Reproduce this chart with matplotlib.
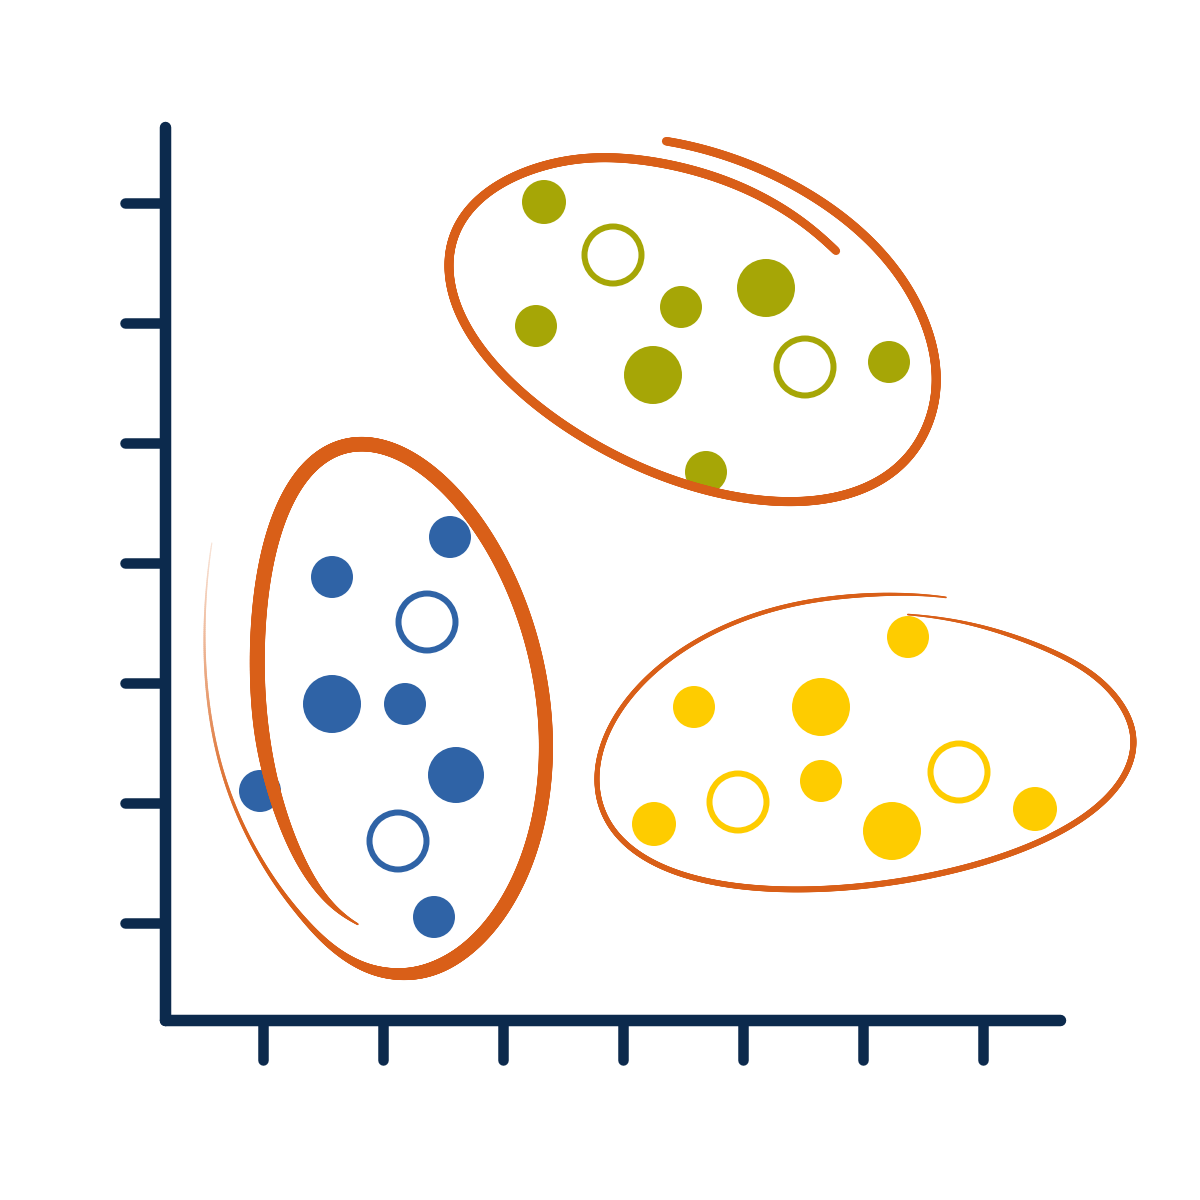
import numpy as np
import matplotlib
matplotlib.use("Agg")
import matplotlib.pyplot as plt
from matplotlib.patches import Circle
from matplotlib.collections import LineCollection
from matplotlib.colors import to_rgb

# ---------------- data (pixel-space coordinates of the icon) ----------------
blue_x = [450, 332, 332, 405, 456, 260, 434]
blue_y = [537, 577, 704, 704, 775, 791, 917]
blue_r = [21, 21, 29, 21, 28, 21, 21]
blue_open_x = [427, 398]
blue_open_y = [622, 841]

green_x = [544, 536, 681, 766, 653, 889, 706]
green_y = [202, 326, 307, 288, 375, 362, 472]
green_r = [22, 21, 21, 29, 29, 21, 21]
green_open_x = [613, 805]
green_open_y = [255, 367]

yellow_x = [908, 694, 821, 821, 654, 892, 1035]
yellow_y = [637, 707, 707, 781, 824, 831, 809]
yellow_r = [21, 21, 29, 21, 22, 29, 22]
yellow_open_x = [738, 959]
yellow_open_y = [802, 772]

xtick_pos = [263, 383, 503, 623, 743, 863, 983]
ytick_pos = [203, 323, 443, 563, 683, 803, 923]

NAVY = "#0c2a4d"
BLUE = "#2f63a6"
GREEN = "#a6a606"
YELLOW = "#fecc00"
ORANGE = "#d95f18"

PX = 0.72  # points per pixel at dpi=100

fig = plt.figure(figsize=(12, 12), dpi=100)
ax = fig.add_axes([0, 0, 1, 1])
ax.set_xlim(0, 1200)
ax.set_ylim(1200, 0)
ax.set_aspect("equal")
ax.axis("off")

# ---------------- axes of the icon ----------------
ax.plot([165, 165], [127, 1020], color=NAVY, lw=11.5 * PX, solid_capstyle="round")
ax.plot([165, 1060], [1020, 1020], color=NAVY, lw=11.5 * PX, solid_capstyle="round")
for yt in ytick_pos:
    ax.plot([125, 165], [yt, yt], color=NAVY, lw=10.5 * PX, solid_capstyle="round")
for xt in xtick_pos:
    ax.plot([xt, xt], [1020, 1060], color=NAVY, lw=10.5 * PX, solid_capstyle="round")

# ---------------- dots ----------------
def dots(xs, ys, rs, color):
    for x, y, r in zip(xs, ys, rs):
        ax.add_patch(Circle((x, y), r, facecolor=color, edgecolor="none", zorder=3))

def rings(xs, ys, color):
    for x, y in zip(xs, ys):
        ax.add_patch(Circle((x, y), 28.5, facecolor="white", edgecolor=color,
                            lw=6 * PX, zorder=3))

dots(blue_x, blue_y, blue_r, BLUE)
rings(blue_open_x, blue_open_y, BLUE)
dots(green_x, green_y, green_r, GREEN)
rings(green_open_x, green_open_y, GREEN)
dots(yellow_x, yellow_y, yellow_r, YELLOW)
rings(yellow_open_x, yellow_open_y, YELLOW)

# ---------------- hand-drawn loops ----------------
def smooth(arr, sigma):
    k = np.arange(-3 * sigma, 3 * sigma + 1)
    g = np.exp(-0.5 * (k / sigma) ** 2)
    g /= g.sum()
    pad = len(k) // 2
    p = np.concatenate([np.full(pad, arr[0]), arr, np.full(pad, arr[-1])])
    return np.convolve(p, g, mode="valid")

def spiral(cx, cy, a, b, phi_deg, gam, dlt, t_keys, s_keys, w_keys, f_keys,
           n=1500, sigma=25):
    t_keys = np.asarray(t_keys, float)
    s_keys, w_keys, f_keys = (np.asarray(k, float) for k in (s_keys, w_keys, f_keys))
    t = np.linspace(t_keys[0], t_keys[-1], n)
    if t_keys[-1] < t_keys[0]:
        tk, sk, wk, fk = t_keys[::-1], s_keys[::-1], w_keys[::-1], f_keys[::-1]
    else:
        tk, sk, wk, fk = t_keys, s_keys, w_keys, f_keys
    s = smooth(np.interp(t, tk, sk), sigma)
    w = smooth(np.interp(t, tk, wk), sigma // 2)
    f = smooth(np.interp(t, tk, fk), sigma // 2)
    tr = np.radians(t)
    ph = np.radians(phi_deg)
    u = a * np.cos(tr) * s + gam * np.sin(tr) ** 2
    v = b * np.sin(tr) * s + dlt * np.cos(tr) ** 2
    x = cx + u * np.cos(ph) - v * np.sin(ph)
    y = cy + u * np.sin(ph) + v * np.cos(ph)
    pts = np.column_stack([x, y])
    segs = np.stack([pts[:-1], pts[1:]], axis=1)
    wm = 0.5 * (w[:-1] + w[1:]) * PX
    fm = 0.5 * (f[:-1] + f[1:])
    base = np.array(to_rgb(ORANGE))
    cols = base[None, :] * fm[:, None] + (1 - fm[:, None]) * np.ones(3)[None, :]
    lc = LineCollection(segs, linewidths=wm, colors=cols, capstyle="round",
                        joinstyle="round", zorder=4)
    ax.add_collection(lc)

# blue cluster loop (starts faint outside on the left, ends inside lower-left)
spiral(401, 707, 142, 266, -6.3, -18, 13,
       [212, 190, 175, 159, 140, 120, 100, 80, 0, -180, -212, -245],
       [1.37, 1.37, 1.32, 1.19, 1.07, 1.02, 1.0, 1.0, 1.0, 1.0, 0.93, 0.86],
       [1.0, 2.5, 3.0, 3.5, 4.5, 7, 11, 14, 14, 15, 10, 1.5],
       [0.15, 0.55, 0.85, 1, 1, 1, 1, 1, 1, 1, 1, 1])

# green cluster loop
spiral(692, 321, 257, 155, 22.5, 15, 10,
       [-112, -80, -40, 0, 90, 165, 230, 262, 295],
       [1.10, 1.06, 1.02, 1.0, 1.0, 0.98, 0.99, 0.93, 0.86],
       [8.5, 9, 9, 9, 9, 9, 9, 9, 8],
       [1, 1, 1, 1, 1, 1, 1, 1, 1])

# yellow cluster loop
spiral(864, 741, 270, 144, -6, -15, 20,
       [-67, -84, -180, -270, -360, -385, -405, -433],
       [1.04, 1.01, 1.0, 1.0, 0.995, 0.97, 0.92, 0.89],
       [1.5, 4, 5, 6, 6, 5.5, 4.5, 1.5],
       [1, 1, 1, 1, 1, 1, 1, 1])

fig.savefig("out.png", dpi=100, facecolor="white")
